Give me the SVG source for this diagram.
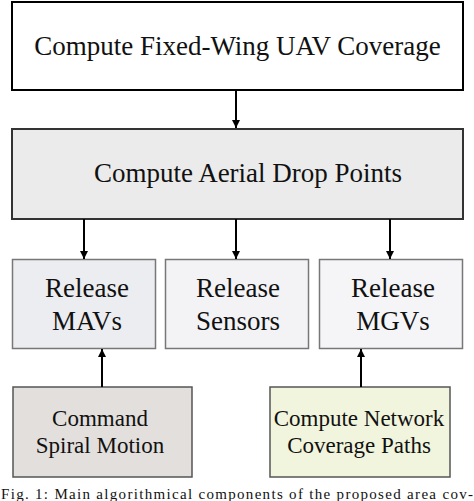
<svg xmlns="http://www.w3.org/2000/svg" width="474" height="501" viewBox="0 0 474 501">
<defs>
<marker id="ah" viewBox="0 0 10 10" refX="10" refY="5" markerWidth="4" markerHeight="4" markerUnits="strokeWidth" orient="auto">
<path d="M0,0 L10,5 L0,10 z" fill="#000"/>
</marker>
<style>
text{font-family:"Liberation Serif","Times New Roman",serif;fill:#111;text-anchor:middle}
.t27{font-size:27px}
.t23{font-size:23px}
.cap{font-size:15px;text-anchor:start}
.conn line{stroke:#000;stroke-width:2;marker-end:url(#ah)}
</style>
</defs>
<rect width="474" height="501" fill="#fff"/>
<g id="fixedwing">
<rect x="12" y="2" width="451" height="88" fill="#fff" stroke="#000" stroke-width="2"/>
<text class="t27" x="237.5" y="55">Compute Fixed-Wing UAV Coverage</text>
</g>
<g id="droppoints">
<rect x="12" y="129" width="451" height="90" fill="#ebebeb" stroke="#333" stroke-width="2"/>
<text class="t27" x="248" y="182">Compute Aerial Drop Points</text>
</g>
<g id="mavs">
<rect x="12.5" y="259.5" width="143" height="89" fill="#ecedf0" stroke="#777" stroke-width="1.5"/>
<text class="t27" x="87" y="297">Release</text>
<text class="t27" x="87" y="330">MAVs</text>
</g>
<g id="sensors">
<rect x="165.5" y="259.5" width="143" height="89" fill="#f3f3f5" stroke="#777" stroke-width="1.5"/>
<text class="t27" x="238" y="297">Release</text>
<text class="t27" x="238" y="330">Sensors</text>
</g>
<g id="mgvs">
<rect x="319.5" y="259.5" width="143" height="89" fill="#f5f5f7" stroke="#777" stroke-width="1.5"/>
<text class="t27" x="393" y="297">Release</text>
<text class="t27" x="393" y="330">MGVs</text>
</g>
<g id="spiral">
<rect x="13" y="387" width="179" height="90" fill="#e3dfdc" stroke="#555" stroke-width="1.5"/>
<text class="t23" x="100" y="426">Command</text>
<text class="t23" x="100" y="453">Spiral Motion</text>
</g>
<g id="network">
<rect x="270" y="387" width="180" height="90" fill="#f1f5dd" stroke="#555" stroke-width="1.5"/>
<text class="t23" x="359" y="426">Compute Network</text>
<text class="t23" x="359" y="453">Coverage Paths</text>
</g>
<g id="connectors" class="conn">
<line x1="236" y1="90" x2="236" y2="128"/>
<line x1="84" y1="219" x2="84" y2="259"/>
<line x1="236" y1="219" x2="236" y2="259"/>
<line x1="390" y1="219" x2="390" y2="259"/>
<line x1="102" y1="387" x2="102" y2="349"/>
<line x1="361" y1="387" x2="361" y2="349"/>
</g>
<text class="cap" x="1" y="499" textLength="472" lengthAdjust="spacing">Fig. 1: Main algorithmical components of the proposed area cov-</text>
</svg>
